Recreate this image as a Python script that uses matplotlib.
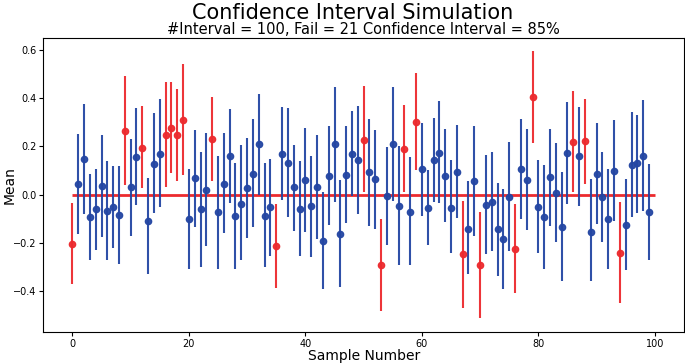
import numpy as np
import matplotlib
matplotlib.use("Agg")
import matplotlib.pyplot as plt

means = [-0.206, 0.043, 0.146, -0.092, -0.061, 0.037, -0.068, -0.052, -0.086, 0.265,
         0.030, 0.156, 0.195, -0.110, 0.127, 0.170, 0.248, 0.277, 0.248, 0.309,
         -0.102, 0.069, -0.061, 0.021, 0.230, -0.073, 0.046, 0.159, -0.088, -0.037,
         0.028, 0.087, 0.211, -0.087, -0.052, -0.213, 0.170, 0.133, 0.030, -0.058,
         0.061, -0.048, 0.033, -0.190, 0.077, 0.208, -0.163, 0.083, 0.170, 0.144,
         0.228, 0.092, 0.063, -0.293, -0.007, 0.208, -0.047, 0.190, -0.070, 0.301,
         0.106, -0.055, 0.144, 0.171, 0.079, -0.054, 0.095, -0.247, -0.141, 0.058,
         -0.293, -0.043, -0.029, -0.144, -0.185, -0.008, -0.225, 0.105, 0.061, 0.403,
         -0.050, -0.092, 0.072, 0.006, -0.135, 0.171, 0.219, 0.159, 0.222, -0.153,
         0.087, -0.010, -0.102, 0.098, -0.243, -0.126, 0.124, 0.130, 0.160, -0.073]
upper = [-0.036, 0.250, 0.375, 0.086, 0.106, 0.247, 0.139, 0.117, 0.119, 0.491,
         0.229, 0.357, 0.366, 0.068, 0.337, 0.395, 0.468, 0.468, 0.439, 0.541,
         0.106, 0.270, 0.177, 0.257, 0.403, 0.159, 0.254, 0.353, 0.130, 0.204,
         0.235, 0.315, 0.417, 0.133, 0.149, -0.039, 0.362, 0.357, 0.207, 0.139,
         0.275, 0.160, 0.248, 0.011, 0.283, 0.447, 0.061, 0.284, 0.348, 0.367,
         0.450, 0.315, 0.270, -0.101, 0.199, 0.444, 0.202, 0.373, 0.157, 0.502,
         0.298, 0.101, 0.317, 0.386, 0.273, 0.142, 0.287, -0.025, 0.057, 0.284,
         -0.070, 0.163, 0.175, 0.050, 0.023, 0.219, -0.039, 0.315, 0.272, 0.594,
         0.144, 0.123, 0.272, 0.213, 0.095, 0.384, 0.431, 0.364, 0.398, 0.065,
         0.295, 0.177, 0.106, 0.308, -0.032, 0.063, 0.344, 0.330, 0.391, 0.127]
lower = [-0.370, -0.163, -0.080, -0.269, -0.229, -0.174, -0.270, -0.222, -0.288, 0.040,
         -0.170, -0.043, 0.029, -0.328, -0.077, -0.052, 0.030, 0.090, 0.058, 0.080,
         -0.309, -0.133, -0.298, -0.213, 0.058, -0.306, -0.160, -0.036, -0.308, -0.270,
         -0.181, -0.135, 0.000, -0.301, -0.254, -0.386, -0.022, -0.091, -0.150, -0.253,
         -0.155, -0.258, -0.184, -0.392, -0.124, -0.029, -0.382, -0.116, -0.007, -0.079,
         0.012, -0.131, -0.142, -0.482, -0.208, -0.028, -0.291, 0.011, -0.293, 0.102,
         -0.087, -0.208, -0.032, -0.036, -0.115, -0.240, -0.098, -0.469, -0.328, -0.170,
         -0.511, -0.246, -0.232, -0.337, -0.392, -0.232, -0.407, -0.102, -0.146, 0.215,
         -0.240, -0.306, -0.131, -0.197, -0.359, -0.039, 0.010, -0.046, 0.044, -0.359,
         -0.120, -0.196, -0.309, -0.109, -0.449, -0.312, -0.094, -0.075, -0.068, -0.271]
true_mean = 0.0
n_intervals = 100
n_fail = 21
conf_level = 85

blue = "#2446a3"
red = "#ec2a2e"

fig = plt.figure(figsize=(6.85, 3.63), dpi=100)
ax = fig.add_axes([0.0632, 0.0846, 0.9353, 0.8107])

for i, (m, lo, hi) in enumerate(zip(means, lower, upper)):
    fail = lo > true_mean or hi < true_mean
    c = red if fail else blue
    ax.errorbar(i, m, yerr=[[m - lo], [hi - m]], fmt="o", color=c,
                ecolor=c, elinewidth=1.5, markersize=4.5, alpha=0.95)

ax.hlines(true_mean, 0, n_intervals, colors=red, linewidth=2.0, zorder=0.5)

ax.set_xlim(-5, 105)
ax.set_ylim(-0.570, 0.649)
ax.set_xticks([0, 20, 40, 60, 80, 100])
ax.set_yticks([-0.4, -0.2, 0.0, 0.2, 0.4, 0.6])
ax.tick_params(labelsize=7, length=3, pad=2)
ax.set_xlabel("Sample Number", fontsize=10, labelpad=0)
ax.set_ylabel("Mean", fontsize=10, va="center")
ax.yaxis.set_label_coords(-0.053, 0.5)
ax.set_title(f"#Interval = {n_intervals}, Fail = {n_fail} Confidence Interval = {conf_level}%",
             fontsize=10.5, pad=3)
fig.text(0.515, 0.992, "Confidence Interval Simulation", ha="center", va="top", fontsize=15)

fig.savefig("out.png", dpi=100)
